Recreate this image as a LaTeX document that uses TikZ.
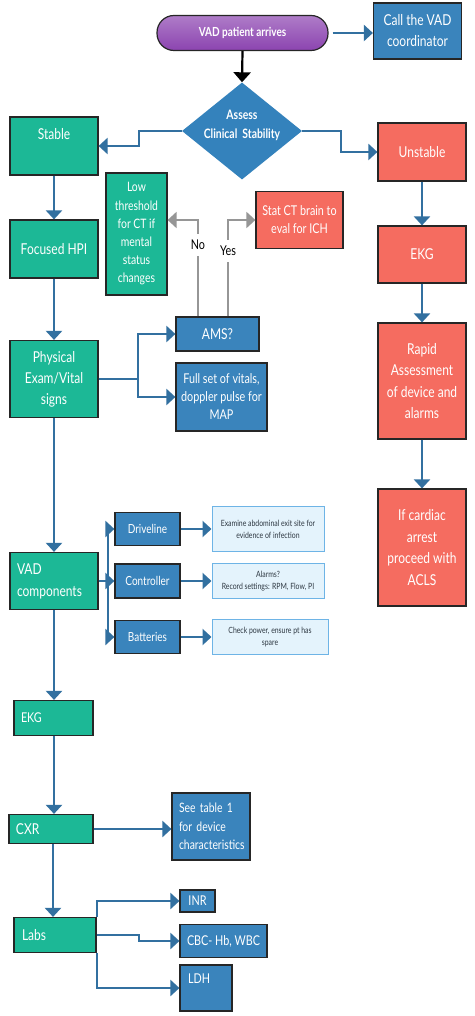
\documentclass[tikz,border=0pt]{standalone}
\usepackage{fontspec}
\setmainfont{Lato}[FakeStretch=0.8]
\usetikzlibrary{arrows.meta,shapes.geometric}
\definecolor{vgreen}{RGB}{28,184,150}
\definecolor{vred}{RGB}{245,108,96}
\definecolor{vblue}{RGB}{58,132,188}
\definecolor{vdia}{RGB}{52,130,188}
\definecolor{vline}{RGB}{50,112,160}
\definecolor{vpurple}{RGB}{140,68,176}
\definecolor{vlight}{RGB}{228,243,252}
\definecolor{vlightb}{RGB}{110,180,230}
\definecolor{vgray}{RGB}{150,150,150}
\definecolor{vltext}{RGB}{45,55,65}
\tikzset{
  box/.style={draw=black!85, line width=1.2pt, text=white, inner sep=0pt, align=center,
              font=\fontsize{15}{21}\selectfont},
  gbox/.style={box, fill=vgreen},
  rbox/.style={box, fill=vred},
  bbox/.style={box, fill=vblue},
  lbox/.style={draw=vlightb, line width=1pt, fill=vlight, text=vltext, inner sep=0pt,
               align=center, font=\fontsize{8.6}{12}\selectfont},
  conn/.style={draw=vline, line width=2.2pt, -{Triangle[length=9pt,width=16pt]}},
  garrow/.style={draw=vgray, line width=2pt, -{Triangle[length=9pt,width=16pt]}},
  blk/.style={draw=black, line width=2.2pt, -{Triangle[length=10pt,width=17pt]}},
  lab/.style={fill=white, text=black, inner xsep=2pt, inner ysep=6pt, font=\fontsize{13.5}{14}\selectfont},
}
\begin{document}
\begin{tikzpicture}[x=1pt,y=-1pt]
\useasboundingbox (0,0) rectangle (474,1016);
\fill[white] (0,0) rectangle (474,1016);

% top
\node[draw=black!85, line width=1.2pt, rounded corners=17pt, top color=vpurple!70!white,
      bottom color=vpurple, text=white, inner sep=0pt, minimum width=171pt, minimum height=35pt,
      font=\bfseries\fontsize{12.5}{14}\selectfont] (arrive) at (242.5,33) {VAD patient arrives};
\node[bbox, minimum width=88pt, minimum height=56pt] (call) at (417.5,31) {Call the VAD\\coordinator};
\node[diamond, fill=vdia, text=white, inner sep=-14pt, minimum width=120pt, minimum height=97pt,
      align=center, text depth=14pt, font=\bfseries\fontsize{13}{19}\selectfont] (assess) at (242,131)
      {Assess\\Clinical\ \ Stability};

% left column
\node[gbox, minimum width=88pt, text height=23pt, text depth=35pt] (stable) at (54,146) {Stable};
\node[gbox, minimum width=88pt, minimum height=58pt] (hpi) at (54,249) {Focused HPI};
\node[gbox, minimum width=88pt, minimum height=77pt] (phys) at (54,379) {Physical\\Exam/Vital\\signs};
\node[gbox, text width=74pt, inner xsep=7pt, align=left, minimum height=57pt] (vadc) at (54,581)
      {VAD\\[1pt]components};
\node[gbox, text width=65pt, inner xsep=7pt, align=left, minimum height=35pt,
      font=\fontsize{13.5}{15}\selectfont] (ekgg) at (53.5,718) {EKG};
\node[gbox, text width=70pt, inner xsep=7pt, align=left, minimum height=29pt] (cxr) at (51,829) {CXR};
\node[gbox, text width=66pt, inner xsep=8pt, align=left, minimum height=35pt] (labs) at (55,935) {Labs};

% middle
\node[gbox, minimum width=61pt, minimum height=122pt, font=\fontsize{13}{18.2}\selectfont] (low)
      at (136.5,234) {Low\\threshold\\for CT if\\mental\\status\\changes};
\node[rbox, minimum width=87pt, minimum height=57pt, font=\fontsize{13.5}{18}\selectfont] (statct)
      at (299.5,220) {Stat CT brain to\\eval for ICH};
\node[bbox, minimum width=83pt, minimum height=34pt] (ams) at (217.5,334) {AMS?};
\node[bbox, minimum width=91pt, minimum height=68pt, font=\fontsize{13.5}{18}\selectfont] (fullset)
      at (221.5,397) {Full set of vitals,\\doppler pulse for\\MAP};

\node[bbox, minimum width=65pt, minimum height=33pt, font=\fontsize{12.5}{14}\selectfont] (drive) at (147.5,529) {Driveline};
\node[bbox, minimum width=65pt, minimum height=34pt, font=\fontsize{12.5}{14}\selectfont] (ctrl) at (147.5,581) {Controller};
\node[bbox, minimum width=65pt, minimum height=33pt, font=\fontsize{12.5}{14}\selectfont] (batt) at (147.5,637) {Batteries};
\node[lbox, minimum width=112pt, minimum height=45pt] (exam) at (268,529) {Examine abdominal exit site for\\evidence of infection};
\node[lbox, minimum width=112pt, minimum height=35pt] (alarm) at (268,581) {Alarms?\\Record settings: RPM, Flow, PI};
\node[lbox, minimum width=116pt, minimum height=35pt] (check) at (270,637) {Check power, ensure pt has\\spare};

\node[bbox, text width=64pt, inner xsep=7pt, align=left, minimum height=67pt,
      font=\fontsize{13}{18.5}\selectfont] (seetab) at (211,826.5) {See table 1\\for device\\characteristics};
\node[bbox, minimum width=35pt, minimum height=22pt, font=\fontsize{13.5}{14}\selectfont] (inr) at (197.5,901) {INR};
\node[bbox, minimum width=87pt, minimum height=33pt, font=\fontsize{13.5}{14}\selectfont] (cbc) at (223.5,941) {CBC- Hb, WBC};
\node[bbox, text width=36pt, inner xsep=8pt, align=left, text height=18pt, text depth=28pt,
      font=\fontsize{13.5}{14}\selectfont] (ldh) at (206,988) {LDH};

% right column
\node[rbox, minimum width=88pt, minimum height=58pt] (unstable) at (422,152) {Unstable};
\node[rbox, minimum width=88pt, minimum height=57pt] (ekgr) at (422,254.5) {EKG};
\node[rbox, minimum width=88pt, minimum height=116pt, font=\fontsize{15}{21.5}\selectfont] (rapid)
      at (422,381) {Rapid\\Assessment\\of device and\\alarms};
\node[rbox, minimum width=88pt, minimum height=117pt, font=\fontsize{15}{21.5}\selectfont] (cardiac)
      at (422,547.5) {If cardiac\\arrest\\proceed with\\ACLS};

% connectors
\draw[conn] ([xshift=4pt]arrive.east) -- (arrive.east -| call.west);
\draw[blk] (arrive.south) -- (assess.north);
\draw[conn] (assess.west) -- ++(-43,0) |- (stable.east);
\draw[conn] (assess.east) -- ++(39,0) |- (unstable.west);
\draw[conn] (stable.south) -- (hpi.north);
\draw[conn] (hpi.south) -- (phys.north);
\draw[conn] (phys.east) -- ++(39,0) |- (ams.west);
\draw[conn] (phys.east) -- ++(39,0) |- (fullset.west);
\draw[garrow] ([xshift=-19.5pt]ams.north) |- node[lab, pos=0.37] {No} ([yshift=14pt]low.east);
\draw[garrow] ([xshift=10.5pt]ams.north) |- node[lab, pos=0.34] {Yes} (statct.west);
\draw[conn] (unstable.south) -- (ekgr.north);
\draw[conn] (ekgr.south) -- (rapid.north);
\draw[conn] (rapid.south) -- (cardiac.north);
\draw[conn] (phys.south) -- (vadc.north);
\draw[conn] (vadc.east) -- ++(9,0) |- (drive.west);
\draw[conn] (vadc.east) -- (ctrl.west);
\draw[conn] (vadc.east) -- ++(9,0) |- (batt.west);
\draw[conn] (drive.east) -- (exam.west);
\draw[conn] (ctrl.east) -- (alarm.west);
\draw[conn] (batt.east) -- (check.west);
\draw[conn] (vadc.south) -- (vadc.south |- ekgg.north);
\draw[conn] (vadc.south |- ekgg.south) -- (vadc.south |- cxr.north);
\draw[conn] (cxr.east) -- (cxr.east -| seetab.west);
\draw[conn] ([xshift=2pt]cxr.south) -- ([xshift=2pt]cxr.south |- labs.north);
\draw[conn] (labs.north east) |- (inr.west);
\draw[conn] (labs.east) -- ++(42,0) |- (cbc.west);
\draw[conn] (labs.south east) |- (ldh.west);
\end{tikzpicture}
\end{document}
